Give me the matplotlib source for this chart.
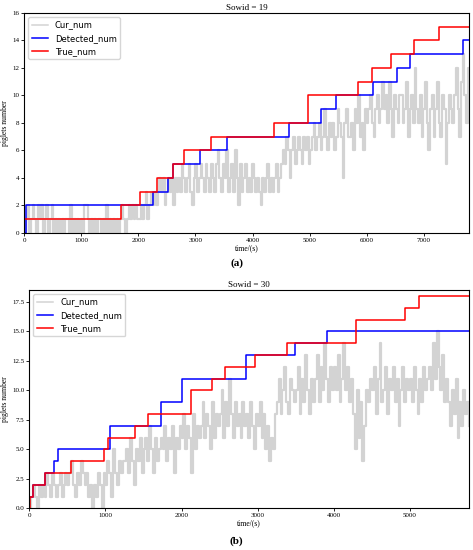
#Two panels: counted piglets over time for sow 19 and sow 30.
#Gray = raw per-frame count, blue = detected count, red = true count.
import numpy as np
import matplotlib.pyplot as plt

plt.rcParams['font.family'] = ['Liberation Serif', 'DejaVu Serif']

#---- Sowid = 19 ----
duration_a = 7790
step_a = 30   #seconds between raw samples
cur_a = [0,1,2,0,1,2,1,0,2,1,
         2,0,1,2,0,1,2,0,1,0,
         1,0,1,0,1,1,0,2,0,1,
         0,1,0,1,0,2,2,1,0,1,
         0,1,0,1,1,0,1,0,2,0,
         1,0,1,0,1,0,1,2,1,0,
         1,2,1,2,1,2,1,1,2,1,
         2,3,1,2,3,2,3,2,3,4,
         3,4,2,3,4,3,4,2,4,3,
         4,3,5,4,3,4,5,3,2,4,
         5,3,4,5,4,3,5,4,3,5,
         4,3,5,6,4,3,5,4,6,3,
         4,5,3,6,4,2,5,3,4,5,
         3,4,3,5,4,3,4,3,2,4,
         3,4,5,3,4,3,4,5,3,4,
         5,6,5,7,6,4,6,7,5,6,
         7,6,5,7,6,7,5,6,7,8,
         6,7,8,6,7,9,7,6,8,7,
         8,6,7,9,8,7,4,8,9,7,
         7,8,6,9,8,10,7,8,6,9,
         8,9,10,8,7,9,10,8,9,11,
         9,10,8,11,9,7,10,9,8,10,
         10,8,9,11,7,9,10,8,12,9,
         8,10,7,9,11,8,6,9,10,7,
         9,11,8,7,10,9,5,8,10,9,
         8,10,12,9,7,11,13,10,8,12,10]
det_t_a = [0, 35, 2254, 2522, 2615, 3088, 3561, 4647, 5190, 5453, 6107, 6538, 6760, 7683]
det_v_a = [0, 2, 3, 4, 5, 6, 7, 8, 9, 10, 11, 12, 13, 14]
true_t_a = [0, 5, 1693, 2031, 2323, 2615, 2808, 3269, 4378, 4968, 5849, 6100, 6427, 6835, 7273]
true_v_a = [0, 1, 2, 3, 4, 5, 6, 7, 8, 10, 11, 12, 13, 14, 15]

#---- Sowid = 30 ----
duration_b = 5775
step_b = 25
cur_b = [0,1,2,1,0,2,1,2,1,3,
         2,1,3,2,1,2,3,1,2,3,
         2,3,4,2,1,3,2,4,3,2,
         3,1,2,0,2,1,3,2,0,3,
         2,4,3,1,5,3,2,4,3,4,
         4,5,3,6,4,2,5,4,6,3,
         5,6,4,7,5,3,6,4,5,6,
         5,7,4,6,5,7,3,6,5,7,
         6,8,5,7,6,3,8,5,7,6,
         7,9,6,8,7,5,9,6,8,7,
         8,10,6,9,7,11,8,6,9,7,
         8,6,9,7,8,6,9,7,5,8,
         7,9,6,8,5,7,4,6,5,8,
         9,11,8,10,12,9,8,11,10,9,
         10,12,8,11,9,13,10,8,11,9,
         11,13,9,12,10,14,11,9,12,10,
         12,10,13,9,11,14,10,12,9,11,
         8,5,10,6,9,4,7,10,9,11,
         10,12,8,11,14,9,10,12,8,11,
         10,12,9,11,7,10,12,9,11,10,
         11,9,12,10,8,11,9,12,10,11,
         12,10,14,11,15,12,10,13,9,11,
         9,7,10,8,11,6,9,7,10,8,
         9,7]
det_t_b = [0, 45, 210, 320, 381, 1059, 1732, 2008, 2844, 3491, 3916]
det_v_b = [1, 2, 3, 4, 5, 7, 9, 11, 13, 14, 15]
true_t_b = [0, 9, 45, 210, 551, 976, 1033, 1383, 1554, 2122, 2398, 2568, 2970, 3391, 4287, 4939, 5123]
true_v_b = [0, 1, 2, 3, 4, 5, 6, 7, 8, 10, 11, 12, 13, 14, 16, 17, 18]


def draw_panel(ax, cur, dt, det_t, det_v, true_t, true_v, tend, title):
    t = np.arange(len(cur)) * dt
    ax.plot(t, cur, color='lightgray', linewidth=1.6, drawstyle='steps-post',
            label='Cur_num')
    ax.step(np.append(det_t, tend), np.append(det_v, det_v[-1]), where='post',
            color='blue', linewidth=1.1, label='Detected_num')
    ax.step(np.append(true_t, tend), np.append(true_v, true_v[-1]), where='post',
            color='red', linewidth=1.1, label='True_num')
    ax.set_xlim(0, tend)
    ax.set_title(title, fontsize=6.5, pad=2)
    ax.set_xlabel('time/(s)', fontsize=5.5, labelpad=1)
    ax.set_ylabel('piglets number', fontsize=5.5, labelpad=2)
    ax.tick_params(labelsize=5, length=2, width=0.6, pad=1.5)
    for sp in ax.spines.values():
        sp.set_linewidth(0.8)
    leg = ax.legend(loc='upper left', prop={'family': 'DejaVu Sans', 'size': 6},
                    borderpad=0.4, handlelength=2.0)
    leg.get_lines()[0].set_linewidth(1.1)


fig = plt.figure(figsize=(4.73, 5.5), dpi=100)
ax1 = fig.add_axes([0.051, 0.5764, 0.9405, 0.4])
ax2 = fig.add_axes([0.062, 0.0758, 0.9295, 0.3969])

draw_panel(ax1, cur_a, step_a, det_t_a, det_v_a, true_t_a, true_v_a, duration_a, 'Sowid = 19')
ax1.set_ylim(0, 16)
ax1.set_yticks(np.arange(0, 17, 2))
ax1.set_xticks(np.arange(0, 7001, 1000))

draw_panel(ax2, cur_b, step_b, det_t_b, det_v_b, true_t_b, true_v_b, duration_b, 'Sowid = 30')
ax2.set_ylim(0, 18.5)
ax2.set_yticks(np.arange(0, 18, 2.5))
ax2.set_xticks(np.arange(0, 5001, 1000))

fig.text(0.5, 1 - 263 / 550, '(a)', ha='center', va='center', fontsize=8, fontweight='bold')
fig.text(0.5, 1 - 541 / 550, '(b)', ha='center', va='center', fontsize=8, fontweight='bold')

fig.savefig('out.png', dpi=100)
